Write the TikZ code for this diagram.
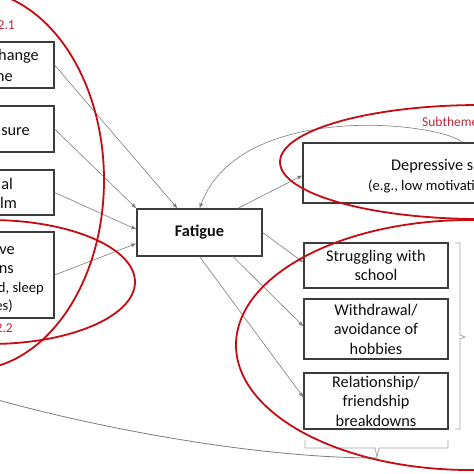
\documentclass[tikz,border=0pt]{standalone}
\usepackage{fontspec}
\setmainfont{Carlito}
\usetikzlibrary{arrows.meta,calc}
\definecolor{redline}{RGB}{196,12,18}
\definecolor{redtext}{RGB}{190,40,55}
\definecolor{boxline}{RGB}{60,60,60}
\definecolor{connc}{RGB}{125,125,125}
\definecolor{brkc}{RGB}{165,165,165}
\definecolor{txtc}{RGB}{15,15,15}
\tikzset{
  box/.style={draw=boxline, line width=1.1pt, inner sep=0pt},
  big/.style={inner sep=0pt, text=txtc, font=\fontsize{16.3}{19.6}\selectfont},
  small/.style={inner sep=0pt, text=txtc, font=\fontsize{14.6}{17.5}\selectfont},
  lbl/.style={inner sep=0pt, text=redtext, font=\fontsize{13.5}{16}\selectfont},
  conn/.style={draw=connc, line width=0.6pt, -{Latex[length=5pt,width=4pt]}},
  brk/.style={draw=brkc, line width=0.8pt},
  ring/.style={draw=redline, line width=1.8pt},
}
\begin{document}
\begin{tikzpicture}[x=1pt,y=-1pt]
\useasboundingbox (0,0) rectangle (474,474);
\clip (0,0) rectangle (474,474);
\fill[white] (0,0) rectangle (474,474);

% left boxes (cut at left edge)
\node[box, minimum width=84pt, minimum height=46pt] (L1) at (12,65) {};
\node[box, minimum width=84pt, minimum height=46pt] (L2) at (12,129) {};
\node[box, minimum width=84pt, minimum height=45pt] (L3) at (12,192.5) {};
\node[box, minimum width=84pt, minimum height=86pt] (L4) at (12,275) {};
\node[big, anchor=base east] (L1a) at (39,60) {hange};
\node[big, anchor=base east] (L1b) at (13,81) {me};
\node[big, anchor=base east] (L2a) at (30,135) {sure};
\node[big, anchor=base east] (L3a) at (13,189) {al};
\node[big, anchor=base east] (L3b) at (17,208) {lm};
\node[big, anchor=base east] (L4a) at (15,254) {ve};
\node[big, anchor=base east] (L4b) at (14,273) {ns};
\node[small, anchor=base east] (L4c) at (44,292) {d, sleep};
\node[small, anchor=base east] (L4d) at (13,310) {es)};

% centre
\node[box, minimum width=125pt, minimum height=47pt, font=\fontsize{16.3}{19.6}\selectfont\bfseries, text=txtc] (fat) at (199.5,232.5) {Fatigue};

% depressive box (cut at right edge)
\node[box, minimum width=250pt, minimum height=60pt] (dep) at (428,173) {};
\node[big, anchor=base west] (depa) at (391,170.5) {Depressive s};
\node[small, anchor=base west] (depb) at (368,190.5) {(e.g., low motivati};

% right boxes
\node[box, minimum width=144pt, minimum height=45pt, big, align=center] (strug) at (376,265.5) {Struggling with\\school};
\node[box, minimum width=144pt, minimum height=60pt, big, align=center] (withd) at (376,329) {Withdrawal/\\avoidance of\\hobbies};
\node[box, minimum width=144pt, minimum height=56pt, big, align=center] (rel) at (376,401) {Relationship/\\friendship\\breakdowns};

% connectors into Fatigue
\draw[conn] (L1.east) -- ([xshift=41pt]fat.north west);
\draw[conn] (L2.east) -- (fat.north west);
\draw[conn] (L3.east) -- ([yshift=-21pt]fat.north west);
\draw[conn] (L4.east) -- ([yshift=-35pt]fat.north west);
\draw[conn] ([xshift=160pt]dep.north west) .. controls (440,122) and (240,100) .. (fat.north);

% connectors out of Fatigue
\draw[conn] ([xshift=-25pt]fat.north east) -- ([yshift=-33pt]dep.north west);
\draw[conn] (fat.east) -- ([yshift=-20pt]strug.north west);
\draw[conn] ([xshift=33.5pt]fat.south) -- ([yshift=-28pt]withd.north west);
\draw[conn] (fat.south) -- ([yshift=-25pt]rel.north west);

% brackets
\draw[brk] (455,243) -- (460,243) -- (460,335) -- (465,337) -- (460,339) -- (460,429) -- (455,429);
\draw[brk] (305,440) -- (305,448) -- (375,448) -- (377,457) -- (379,448) -- (448,448) -- (448,440);
\coordinate (brtip) at (377,458);
\coordinate (farleft) at (-30,392);
\draw[brk, draw=connc] (farleft) .. controls (80,425) and (250,458) .. (brtip);

% red subtheme rings
\draw[ring] (-30,180) ellipse [x radius=134pt, y radius=190pt];
\draw[ring] (-10,282) ellipse [x radius=145pt, y radius=62pt];
\draw[ring] (480,162) ellipse [x radius=200pt, y radius=57pt];
\draw[ring] (470,345) ellipse [x radius=234pt, y radius=125pt];

\node[lbl, anchor=base east] (s21) at (15,29) {2.1};
\node[lbl, anchor=base east] (s22) at (13,332) {2.2};
\node[lbl, anchor=base west] (s23) at (422,126) {Subtheme};
\end{tikzpicture}
\end{document}
